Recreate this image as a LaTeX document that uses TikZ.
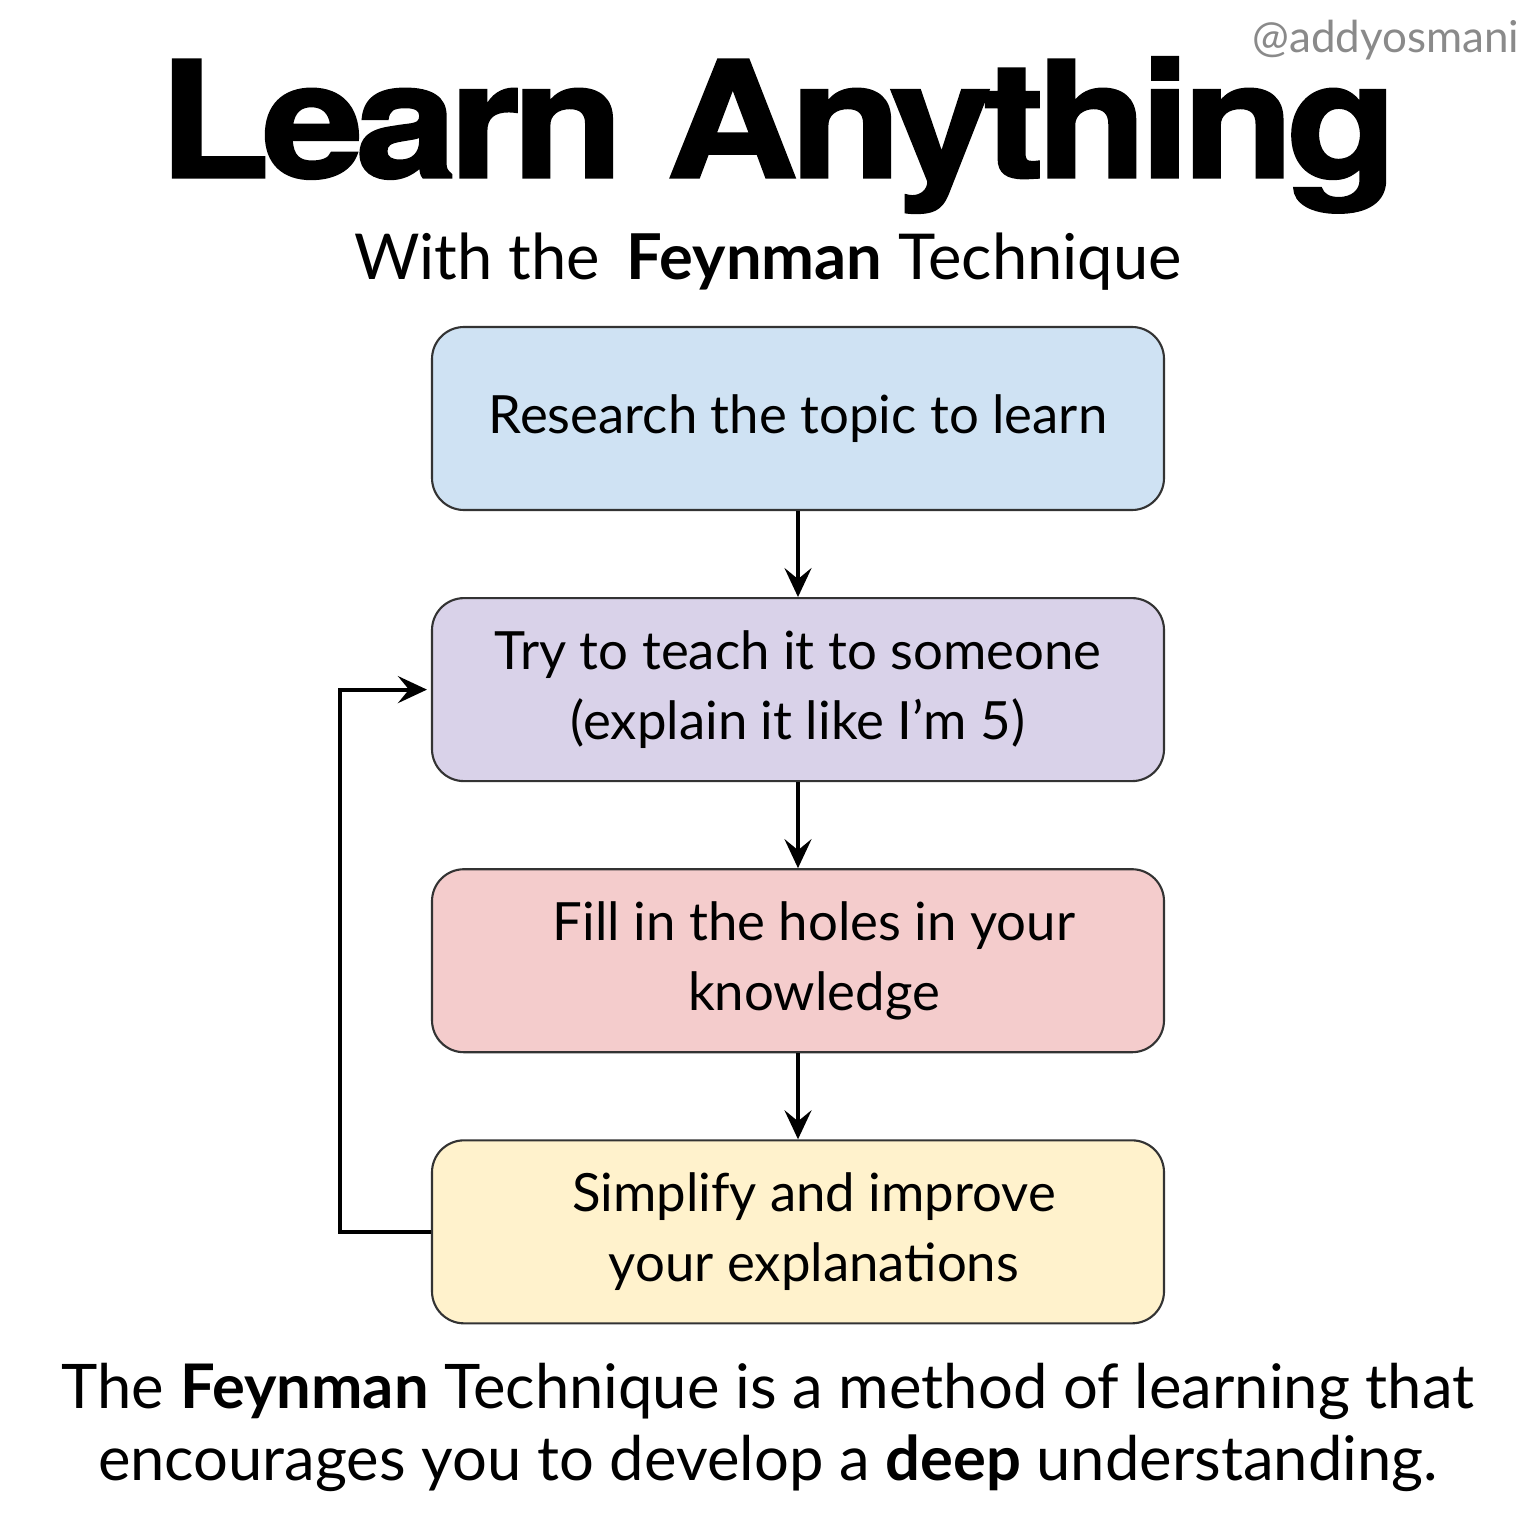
\documentclass[tikz,border=0pt]{standalone}
\usepackage{fontspec}
\setmainfont{Lato}
\newfontfamily\titlefont[LetterSpace=-5, FakeStretch=1.13, FakeBold=1.5]{TeX Gyre Heros}
\usepackage{xcolor}
\usetikzlibrary{arrows.meta}
\usetikzlibrary{positioning}

\definecolor{stepblue}{HTML}{CFE2F3}
\definecolor{steppurple}{HTML}{D9D2E9}
\definecolor{stepred}{HTML}{F4CCCC}
\definecolor{stepyellow}{HTML}{FFF2CC}
\definecolor{handlegray}{HTML}{8A8A8A}

% the text of the two lower boxes sits a little to the right
\newcommand{\nudge}{\hspace*{0.32cm}}

\begin{document}
\begin{tikzpicture}[
        stepbox/.style={draw=black!80, line width=0.6pt, rounded corners=0.32cm, minimum width=7.32cm, minimum height=1.83cm, align=center, font=\fontsize{15}{20}\selectfont},
        flow/.style={-{Stealth[length=2.9mm, width=2.7mm, inset=1.1mm]}, black, line width=1.1pt}
    ]
            \fill[white] (0, 0) rectangle (15.36, -15.36);
            \useasboundingbox (0, 0) rectangle (15.36, -15.36);

            % header
            \node[anchor=east, inner sep=0pt, handlegray, font=\fontsize{12.5}{14}\selectfont] (handle) at (15.2, -0.4) {@addyosmani};
            \node[inner sep=0pt, font=\titlefont\bfseries\fontsize{46}{52}\selectfont] (title) at (7.78, -1.35) {Learn Anything};
            \node[font=\fontsize{18}{22}\selectfont] (subtitle) at (7.68, -2.62) {With the\, \textbf{Feynman} Technique};

            % the four steps
            \node[stepbox, fill=stepblue] (research) at (7.98, -4.185) {Research the topic to learn};
            \node[stepbox, fill=steppurple, below=0.86cm of research] (teach) {Try to teach it to someone\\(explain it like I’m 5)};
            \node[stepbox, fill=stepred, below=0.86cm of teach] (holes) {\nudge Fill in the holes in your\\\nudge knowledge};
            \node[stepbox, fill=stepyellow, below=0.86cm of holes] (simplify) {\nudge Simplify and improve\\\nudge your explanations};

            \draw[flow] (research) -- (teach);
            \draw[flow] (teach) -- (holes);
            \draw[flow] (holes) -- (simplify);
            \draw[flow] (simplify.west) -- ++(-0.91, 0) |- ([xshift=-0.04cm]teach.west);

            % footer
            \node[align=center, font=\fontsize{17.5}{20.5}\selectfont] (summary) at (7.68, -14.27) {The \textbf{Feynman} Technique is a method of learning that\\encourages you to develop a \textbf{deep} understanding.};
        \end{tikzpicture}
\end{document}
